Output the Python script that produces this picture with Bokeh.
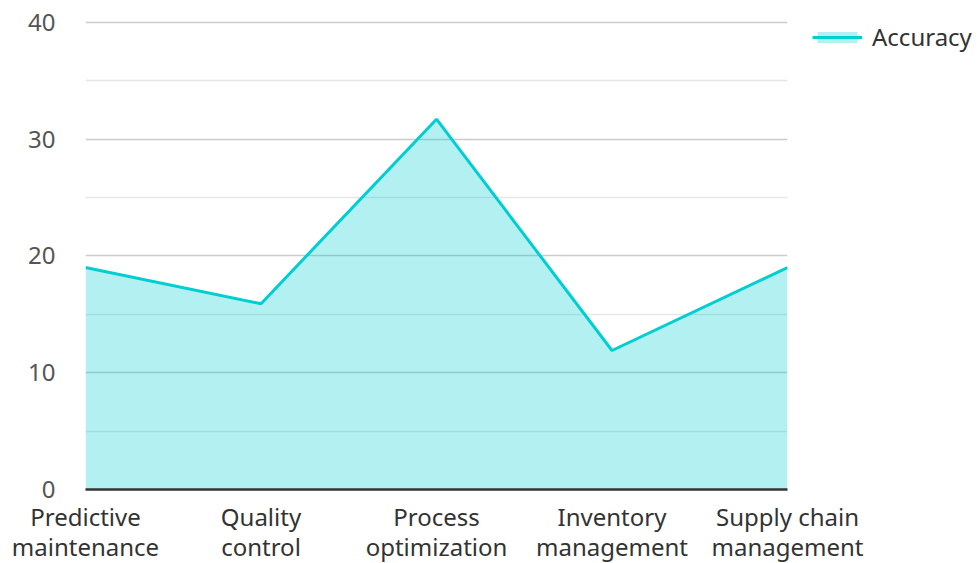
from bokeh.plotting import figure
from bokeh.models import ColumnDataSource, FixedTicker, Range1d, Legend, LegendItem
from bokeh.embed import file_html
from bokeh.resources import INLINE

categories = ["Predictive\nmaintenance", "Quality\ncontrol", "Process\noptimization",
              "Inventory\nmanagement", "Supply chain\nmanagement"]
accuracy = [19, 15.9, 31.7, 11.9, 19]
y_ticks = [0, 10, 20, 30, 40]
y_minor = [5, 15, 25, 35]

xs = list(range(len(categories)))
src = ColumnDataSource(dict(x=xs, y=accuracy, y0=[0] * len(xs)))

FONT = "Noto Sans"
p = figure(frame_width=702, frame_height=469, output_backend="svg", toolbar_location=None,
           x_range=Range1d(0, len(categories) - 1), y_range=Range1d(0, 40.15),
           min_border_left=85, min_border_right=190, min_border_top=20, min_border_bottom=74)
p.outline_line_color = None
p.background_fill_color = "white"

area = p.varea(x="x", y1="y0", y2="y", source=src, fill_color="#00CED1", fill_alpha=0.3)
line = p.line(x="x", y="y", source=src, line_color="#00CED1", line_width=3)

p.xgrid.visible = False
p.yaxis.ticker = FixedTicker(ticks=y_ticks, minor_ticks=y_minor)
p.ygrid.grid_line_color = "#cccccc"
p.ygrid.grid_line_width = 1.5
p.ygrid.minor_grid_line_color = "#e6e6e6"
p.ygrid.minor_grid_line_width = 1.5

p.xaxis.ticker = FixedTicker(ticks=xs)
p.xaxis.major_label_overrides = {i: c for i, c in enumerate(categories)}
p.xaxis.axis_line_color = "#333333"
p.xaxis.axis_line_width = 2.5
p.xaxis.major_tick_line_color = None
p.xaxis.minor_tick_line_color = None
p.xaxis.major_label_text_font = FONT
p.xaxis.major_label_text_font_size = "24px"
p.xaxis.major_label_text_color = "#333333"
p.xaxis.major_label_text_line_height = 0.92
p.xaxis.major_label_standoff = 4

p.yaxis.axis_line_color = None
p.yaxis.major_tick_line_color = None
p.yaxis.minor_tick_line_color = None
p.yaxis.major_label_text_font = FONT
p.yaxis.major_label_text_font_size = "24px"
p.yaxis.major_label_text_color = "#555555"
p.yaxis.major_label_standoff = 24

legend = Legend(items=[LegendItem(label="Accuracy", renderers=[area, line])],
                location="top_left", glyph_width=50, glyph_height=14, label_height=20,
                label_text_font=FONT, label_text_font_size="24px",
                label_text_color="#333333", label_text_line_height=0.7,
                border_line_color=None,
                title=" ", title_location="left", title_text_font_size="1px",
                title_standoff=24,
                background_fill_alpha=0, padding=0, margin=0, label_standoff=10)
p.add_layout(legend, "right")

open("out.html", "w").write(file_html(p, INLINE))
